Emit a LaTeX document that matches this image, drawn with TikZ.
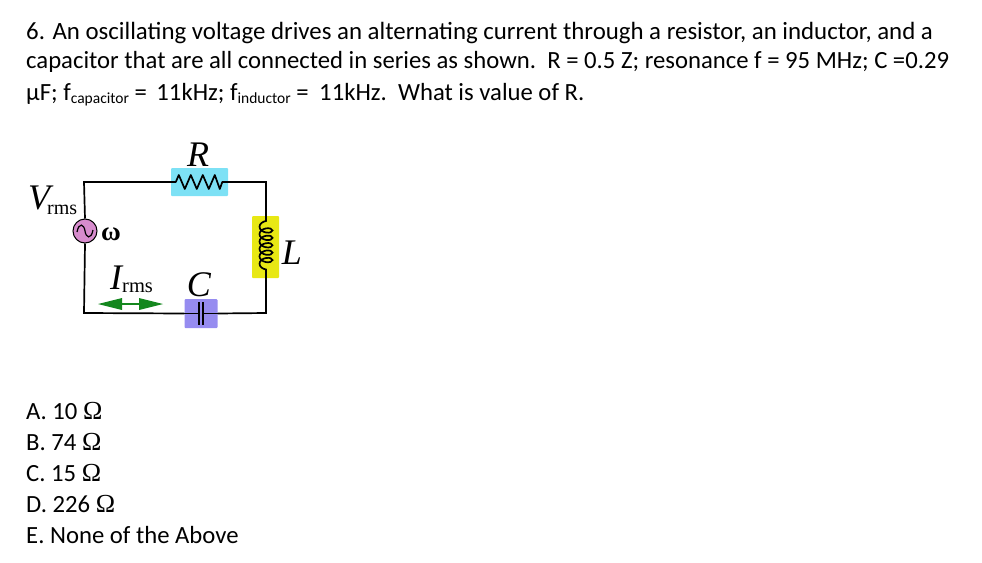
\documentclass[tikz,border=0pt]{standalone}
\usepackage{fontspec}
\setmainfont{Carlito}
\newfontfamily\labelfont{Liberation Serif}
\usetikzlibrary{decorations.pathmorphing}
\newcommand{\lowtext}[1]{\raisebox{-3.5pt}{\fontsize{15.5}{18}\selectfont #1}}
\newcommand{\ohm}{\ {\labelfont\fontsize{26}{28}\selectfont Ω}}
\tikzset{question/.style={anchor=base west, inner sep=0pt, font=\fontsize{24.7}{28}\selectfont}}
\tikzset{answer/.style={question}}
\tikzset{part/.style={rectangle, rounded corners=1pt, inner sep=0pt}}
\tikzset{symbol/.style={inner sep=0pt, font=\labelfont\itshape\fontsize{36}{40}\selectfont}}
\tikzset{wire/.style={line width=1.7pt, black}}
\definecolor{rescolor}{RGB}{125,225,245}
\definecolor{indcolor}{RGB}{232,232,20}
\definecolor{capcolor}{RGB}{150,140,240}
\definecolor{srccolor}{RGB}{215,140,205}
\definecolor{arrowcolor}{RGB}{20,135,30}

\begin{document}
\begin{tikzpicture}[x=1pt,y=-1pt]
\useasboundingbox (0,0) rectangle (982,562);
\node (line1) [question, font=\fontsize{24.85}{28}\selectfont] at (26,39) {6. An oscillating voltage drives an alternating current through a resistor, an inductor, and a};
\node (line2) [question] at (26,68) {capacitor that are all connected in series as shown.\ \ R = 0.5 Z; resonance f = 95 MHz; C =0.29};
\node (line3) [question] at (26,100) {µF; f\lowtext{capacitor} =\ \kern4pt11kHz; f\lowtext{inductor} =\ \kern5pt11kHz.\ \ What is value of R.};

\node (resbox) [part, fill=rescolor, minimum width=57pt, minimum height=28pt] at (199.5,182) {};
\node (indbox) [part, fill=indcolor, minimum width=27pt, minimum height=62pt] at (265.5,247) {};
\node (capbox) [part, fill=capcolor, minimum width=33pt, minimum height=29pt] at (201,313.5) {};
\node (source) [circle, draw=black, line width=1pt, fill=srccolor, minimum size=24pt, inner sep=0pt] at (85,231) {};

% wires
\draw [wire] (source.north) -- (84,182) -- (resbox.west);
\draw [wire] (resbox.east) -- (266,182) -- (266,216);
\draw [wire] (266,278) -- (266,313) -- (capbox.east);
\draw [wire] (capbox.west) -- (84,313) -- (source.south);

% resistor
\draw [wire, line join=round] (resbox.west) -- ++(5,0) -- ++(3,-7) -- ++(6,14) -- ++(6,-14) -- ++(6,14) -- ++(6,-14) -- ++(6,14) -- ++(6,-14) -- ++(5,14) -- ++(2.5,-7) -- (resbox.east);
% inductor
\draw [wire, decorate, decoration={coil, aspect=0.6, segment length=7.4pt, amplitude=6.5pt, pre length=5pt, post length=5pt, mirror}] (266,216) -- (266,278);
% capacitor
\draw [wire] (capbox.west) -- (198,313.5);
\draw [wire] (204,313.5) -- (capbox.east);
\draw [line width=2pt] (198.5,302) -- (198.5,325);
\draw [line width=2pt] (203,302) -- (203,325);
% source wave
\draw [line width=1.2pt] (77,232) .. controls (79,222) and (84,224) .. (85,231) .. controls (86,238) and (91,240) .. (93,230);

% current arrow
\draw [line width=2.5pt, arrowcolor] (115,304) -- (146,304);
\fill [arrowcolor] (98,304) -- (122,298) -- (122,310) -- cycle;
\fill [arrowcolor] (163,304) -- (139,298) -- (139,310) -- cycle;

\node (labelR) [symbol, anchor=base] at (198,166) {R};
\node (labelL) [symbol, anchor=base] at (292,264) {L};
\node (labelC) [symbol, anchor=base] at (199,296) {C};
\node (labelV) [symbol, anchor=base west] at (28,209) {V\kern-3pt\raisebox{-5pt}{\upshape\fontsize{20}{22}\selectfont rms}};
\node (labelI) [symbol, anchor=base west] at (110,289) {I\raisebox{-3pt}{\upshape\fontsize{20.5}{22}\selectfont rms}};
\node (labelw) [inner sep=0pt, anchor=base] at (111,240) {\labelfont\bfseries\fontsize{27}{28}\selectfont ω};

\node (optA) [answer] at (26,419) {A. 10\ohm};
\node (optB) [answer] at (26,450) {B. 74\ohm};
\node (optC) [answer] at (26,481) {C. 15\ohm};
\node (optD) [answer] at (26,512) {D. 226\ohm};
\node (optE) [answer] at (26,543) {E. None of the Above};
\end{tikzpicture}
\end{document}
